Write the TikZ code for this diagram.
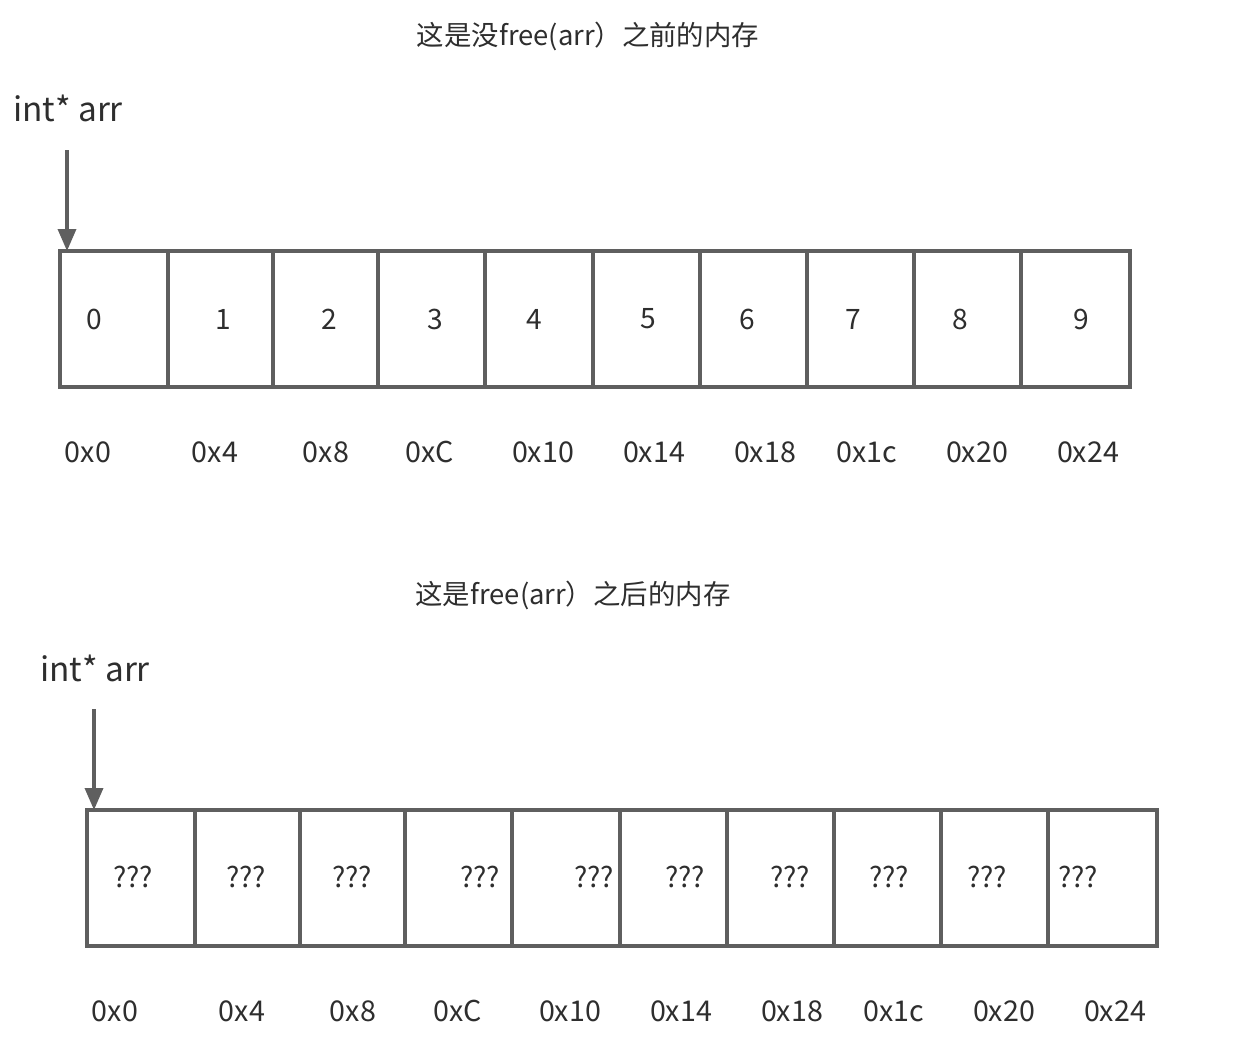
\documentclass[tikz,border=0pt]{standalone}
\usepackage{fontspec}
\setmainfont{Noto Sans CJK SC}
\usepackage{tikz}
\usetikzlibrary{arrows.meta}
\definecolor{boxgray}{HTML}{5F5F5F}
\definecolor{txtgray}{HTML}{2E2E2E}

\begin{document}
\begin{tikzpicture}[x=0.02cm,y=-0.02cm,
    cell/.style={draw=boxgray,line width=0.075cm,minimum height=2.72cm,inner sep=0pt,outer sep=0pt,anchor=north west},
    val/.style={text=txtgray,font=\fontsize{16}{18}\selectfont,inner sep=0pt},
    addr/.style={text=txtgray,font=\fontsize{16.3}{18}\selectfont,inner sep=0pt},
    ptrname/.style={text=txtgray,font=\fontsize{19}{22}\selectfont,inner sep=0pt},
    caption/.style={text=txtgray,font=\fontsize{15.6}{18}\selectfont,inner sep=0pt},
    ptr/.style={draw=boxgray,line width=0.07cm,-{Triangle[length=0.44cm,width=0.36cm]}}]
  \useasboundingbox (0,0) rectangle (1249,1049);
  \fill[white] (0,0) rectangle (1249,1049);

  \node[caption] at (588,36) (capA) {这是没free(arr）之前的内存};
  \node[ptrname] at (68,108) (nameA) {int* arr};
  \coordinate (tailA) at (67,150);
  \node[cell,minimum width=2.16cm] at (60,251) (a0) {};
  \node[cell,minimum width=2.10cm] at (168,251) (a1) {};
  \node[cell,minimum width=2.10cm] at (273,251) (a2) {};
  \node[cell,minimum width=2.14cm] at (378,251) (a3) {};
  \node[cell,minimum width=2.16cm] at (485,251) (a4) {};
  \node[cell,minimum width=2.14cm] at (593,251) (a5) {};
  \node[cell,minimum width=2.14cm] at (700,251) (a6) {};
  \node[cell,minimum width=2.14cm] at (807,251) (a7) {};
  \node[cell,minimum width=2.14cm] at (914,251) (a8) {};
  \node[cell,minimum width=2.18cm] at (1021,251) (a9) {};
  \node[val] at (94,319) (va0) {0};
  \node[val] at (223,319) (va1) {1};
  \node[val] at (329,319) (va2) {2};
  \node[val] at (435,319) (va3) {3};
  \node[val] at (534,319) (va4) {4};
  \node[val] at (648,319) (va5) {5};
  \node[val] at (747,319) (va6) {6};
  \node[val] at (853,319) (va7) {7};
  \node[val] at (960,319) (va8) {8};
  \node[val] at (1081,319) (va9) {9};
  \node[addr] at (88,452) (ma0) {0x0};
  \node[addr] at (215,452) (ma1) {0x4};
  \node[addr] at (326,452) (ma2) {0x8};
  \node[addr] at (430,452) (ma3) {0xC};
  \node[addr] at (543,452) (ma4) {0x10};
  \node[addr] at (654,452) (ma5) {0x14};
  \node[addr] at (765,452) (ma6) {0x18};
  \node[addr] at (867,452) (ma7) {0x1c};
  \node[addr] at (977,452) (ma8) {0x20};
  \node[addr] at (1088,452) (ma9) {0x24};
  \draw[ptr] (tailA) -- (tailA |- a0.north);

  \node[caption] at (573,595) (capB) {这是free(arr）之后的内存};
  \node[ptrname] at (95,668) (nameB) {int* arr};
  \coordinate (tailB) at (94,709);
  \node[cell,minimum width=2.16cm] at (87,810) (b0) {};
  \node[cell,minimum width=2.10cm] at (195,810) (b1) {};
  \node[cell,minimum width=2.10cm] at (300,810) (b2) {};
  \node[cell,minimum width=2.14cm] at (405,810) (b3) {};
  \node[cell,minimum width=2.16cm] at (512,810) (b4) {};
  \node[cell,minimum width=2.14cm] at (620,810) (b5) {};
  \node[cell,minimum width=2.14cm] at (727,810) (b6) {};
  \node[cell,minimum width=2.14cm] at (834,810) (b7) {};
  \node[cell,minimum width=2.14cm] at (941,810) (b8) {};
  \node[cell,minimum width=2.18cm] at (1048,810) (b9) {};
  \node[val] at (133,877) (vb0) {???};
  \node[val] at (246,877) (vb1) {???};
  \node[val] at (352,877) (vb2) {???};
  \node[val] at (480,877) (vb3) {???};
  \node[val] at (594,877) (vb4) {???};
  \node[val] at (685,877) (vb5) {???};
  \node[val] at (790,877) (vb6) {???};
  \node[val] at (889,877) (vb7) {???};
  \node[val] at (987,877) (vb8) {???};
  \node[val] at (1078,877) (vb9) {???};
  \node[addr] at (115,1011) (mb0) {0x0};
  \node[addr] at (242,1011) (mb1) {0x4};
  \node[addr] at (353,1011) (mb2) {0x8};
  \node[addr] at (458,1011) (mb3) {0xC};
  \node[addr] at (570,1011) (mb4) {0x10};
  \node[addr] at (681,1011) (mb5) {0x14};
  \node[addr] at (792,1011) (mb6) {0x18};
  \node[addr] at (894,1011) (mb7) {0x1c};
  \node[addr] at (1004,1011) (mb8) {0x20};
  \node[addr] at (1115,1011) (mb9) {0x24};
  \draw[ptr] (tailB) -- (tailB |- b0.north);
\end{tikzpicture}
\end{document}
